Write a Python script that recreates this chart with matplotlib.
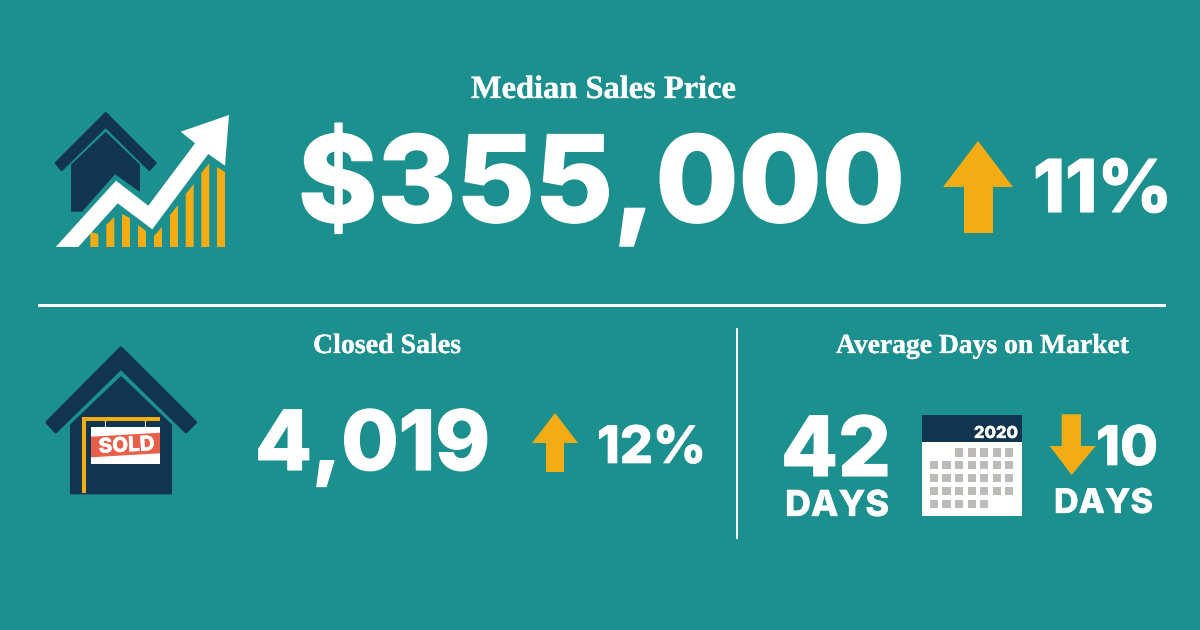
import matplotlib
matplotlib.use("Agg")
import matplotlib.pyplot as plt
import matplotlib.patheffects as pe
from matplotlib.patches import Polygon, Rectangle

BG = "#1C8F8F"
NAVY = "#11344F"
GOLD = "#F4AC14"
RED = "#E8604A"
GREY = "#BDBBB8"
WHITE = "#FFFFFF"
BIG = "Inter"
SERIF = "Liberation Serif"

price_title = "Median Sales Price"
price_value = "$355,000"
price_change = "11%"
sales_title = "Closed Sales"
sales_value = "4,019"
sales_change = "12%"
days_title = "Average Days on Market"
days_value = "42"
days_change = "10"
days_unit = "DAYS"
calendar_year = "2020"
sign_word = "SOLD"

# icon bar tops (left edge, right edge)
bar_top_left = [232, 225, 214, 225, 236, 215, 194, 173, 167]
bar_top_right = [234, 217, 218, 231, 227, 205, 184, 163, 172]
bar_left = [90.3, 106.3, 122, 138, 154, 170, 185.7, 201.3, 217]
calendar_row_cols = [(2, 6), (0, 6), (0, 6), (0, 6), (0, 4)]

fig = plt.figure(figsize=(12, 6.3), dpi=100, facecolor=BG)
ax = fig.add_axes([0, 0, 1, 1])
ax.set_xlim(0, 1200)
ax.set_ylim(630, 0)
ax.axis("off")


def poly(points, color, z=2, join="round", lw=0):
    ax.add_patch(Polygon(points, closed=True, fc=color, ec=color, lw=lw, joinstyle=join, zorder=z))


def rect(x0, y0, x1, y1, color, z=2):
    ax.add_patch(Rectangle((x0, y0), x1 - x0, y1 - y0, fc=color, ec="none", zorder=z))


def fit_text(s, x0, x1, base, family, weight="bold", color=WHITE, z=5, stroke=0.2):
    t = ax.text(x0, base, s, family=family, weight=weight, color=color, fontsize=20,
                ha="left", va="baseline", zorder=z)
    r = fig.canvas.get_renderer()
    w = t.get_window_extent(r).width
    t.set_fontsize(20 * (x1 - x0) / w)
    t.set_path_effects([pe.withStroke(linewidth=stroke, foreground=color)])
    return t


def up_arrow(x0, x1, sx0, sx1, tip, base, bottom):
    poly([((x0 + x1) / 2, tip), (x1, base), (sx1, base), (sx1, bottom),
          (sx0, bottom), (sx0, base), (x0, base)], GOLD)


# separators
rect(38, 303.5, 1166, 306.5, WHITE)
rect(735.7, 328, 738.3, 539, WHITE)

# price icon
poly([(105.7, 113), (155.7, 163), (149.3, 170), (105.7, 126.7), (61.7, 170), (55.7, 163)], NAVY, lw=1.5)
poly([(105.7, 132.7), (139.3, 165), (139.3, 190.7), (115, 173.3), (81.7, 211),
      (71.7, 211), (71.7, 165)], NAVY, lw=1)
poly([(55.7, 247), (78.3, 247), (117.7, 203.3), (152.3, 229.3), (208.3, 154), (225, 165.7),
      (229, 115), (180.7, 131.7), (195, 143.3), (148.3, 205.7), (116, 180.7)], WHITE, z=3)
for x, tl, tr in zip(bar_left, bar_top_left, bar_top_right):
    poly([(x, tl), (x + 8, tr), (x + 8, 247), (x, 247)], GOLD)

# price text
fit_text(price_title, 471, 736, 98, SERIF)
fit_text(price_value, 298, 905, 222, BIG, weight=800, stroke=1)
up_arrow(943, 1013, 964, 993, 141, 187, 233)
fit_text(price_change, 1033, 1172, 212, BIG, weight=800, stroke=0.8)

# sold icon
poly([(121, 347.7), (195.7, 422.3), (186, 432), (121, 368.3), (55.7, 432), (46.7, 422.3)], NAVY, lw=2)
poly([(121, 377.3), (171, 425), (171, 493.3), (71, 493.3), (71, 425)], NAVY, lw=1.5)
rect(82.3, 417.3, 85.7, 493.3, GOLD, 3)
rect(82.3, 417.3, 160, 420.7, GOLD, 3)
for hx in (105.3, 145.3):
    rect(hx - 0.4, 420.7, hx + 0.4, 427, WHITE, 3)
rect(91, 426.7, 160, 464, WHITE, 3)
poly([(91, 436.7), (160, 432.7), (160, 453.3), (91, 457.3)], RED, z=4)
t = fit_text(sign_word, 99, 155, 453, BIG, weight=800)
t.set_rotation(3)
t.set_rotation_mode("anchor")

# sales text
fit_text(sales_title, 313, 461, 353, SERIF)
fit_text(sales_value, 255, 490, 470, BIG, weight=800, stroke=0.8)
up_arrow(532, 578, 546, 564, 413, 443, 472)
fit_text(sales_change, 597, 706, 463, BIG, weight=800, stroke=0.5)

# days text
fit_text(days_title, 836, 1129, 353, SERIF)
fit_text(days_value, 781, 891, 476, BIG, weight=800, stroke=0.8)
fit_text(days_unit, 785, 889, 516, BIG, weight=800)

# calendar
rect(921.7, 415, 1021.7, 515.7, WHITE)
rect(921.7, 415, 1021.7, 442, NAVY, 3)
fit_text(calendar_year, 974, 1018, 438, BIG, weight=800)
col_x = [930, 942.3, 955, 967.7, 980, 992.7, 1005]
row_y = [448.3, 461, 474, 486.7, 500]
for y, (c0, c1) in zip(row_y, calendar_row_cols):
    for c in range(c0, c1 + 1):
        rect(col_x[c], y, col_x[c] + 8.3, y + 8.3, GREY, 3)

# down arrow
poly([(1061.7, 414.3), (1081, 414.3), (1081, 446), (1095.7, 446), (1071.7, 475),
      (1049.7, 446), (1061.7, 446)], GOLD)
fit_text(days_change, 1096, 1158, 465, BIG, weight=800, stroke=0.5)
fit_text(days_unit, 1054, 1153, 513, BIG, weight=800)

fig.savefig("out.png", dpi=100, facecolor=BG)
